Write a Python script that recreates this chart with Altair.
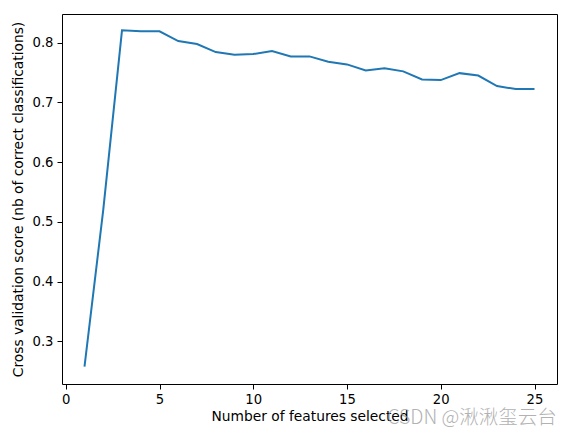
import altair as alt
import pandas as pd

n_features = list(range(1, 26))
cv_scores = [0.2576, 0.520, 0.8206, 0.819, 0.819, 0.8027, 0.7977, 0.7843, 0.7798, 0.781,
             0.786, 0.777, 0.777, 0.768, 0.7636, 0.7536, 0.757, 0.752, 0.7385, 0.7374,
             0.749, 0.745, 0.7273, 0.7223, 0.7223]
x_ticks = [0, 5, 10, 15, 20, 25]
y_ticks = [0.3, 0.4, 0.5, 0.6, 0.7, 0.8]
watermark = "CSDN @湫湫玺云台"

df = pd.DataFrame({"n": n_features, "score": cv_scores})

W, H = 495, 370

line = alt.Chart(df).mark_line(color="#1f77b4", strokeWidth=2).encode(
    x=alt.X("n:Q", scale=alt.Scale(domain=[-0.2, 26.2], nice=False, zero=False),
            axis=alt.Axis(values=x_ticks, title="Number of features selected", format="d")),
    y=alt.Y("score:Q", scale=alt.Scale(domain=[0.2286, 0.848], nice=False, zero=False),
            axis=alt.Axis(values=y_ticks, format=".1f",
                          title="Cross validation score (nb of correct classifications)")),
)

wm = alt.Chart(pd.DataFrame({"t": [watermark]})).mark_text(
    font="Noto Sans CJK SC", fontSize=19.5, fontWeight=300, color="#999999", opacity=0.75,
    align="center", baseline="middle"
).encode(text="t:N", x=alt.value(410), y=alt.value(404))

chart = alt.layer(line, wm).properties(
    width=W, height=H,
    autosize=alt.AutoSizeParams(type="none"),
    padding={"left": 54, "top": 6, "right": 5, "bottom": 50},
).configure_view(stroke="black", strokeWidth=1).configure_axis(
    grid=False, domain=False,
    labelFont="DejaVu Sans", labelFontSize=13.2, labelColor="black",
    titleFont="DejaVu Sans", titleFontSize=13.8, titleFontWeight="normal", titleColor="black",
    tickColor="black", tickSize=5, tickWidth=1, labelPadding=4,
).configure_axisX(titlePadding=4).configure_axisY(titlePadding=7)

chart.save("out.html", embed_options={"renderer": "svg", "actions": False})
